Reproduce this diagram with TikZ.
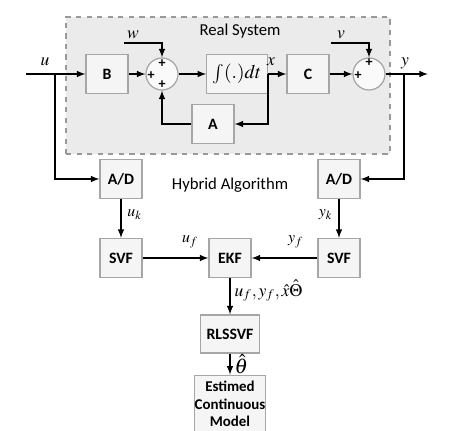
\documentclass[tikz,border=0pt]{standalone}
\usepackage{amsmath}
\usepackage{mathptmx}
\usepackage{fontspec}
\setmainfont{Carlito}
\usepackage{tikz}

\tikzset{
  block/.style={draw=gray!70, fill=gray!8, minimum width=0.84cm, minimum height=0.78cm,
    font=\bfseries\fontsize{9}{10}\selectfont},
  sumnode/.style={circle, draw=gray!70, fill=gray!4, minimum size=0.64cm, inner sep=0pt},
  sysbox/.style={draw=gray!80, dashed, fill=gray!16, minimum width=6.48cm, minimum height=2.74cm},
  plus/.style={inner sep=0pt, font=\bfseries\fontsize{8}{8}\selectfont},
  sig/.style={inner sep=1pt}
}

\begin{document}
\begin{tikzpicture}[x=0.02cm, y=-0.02cm, >=latex, line width=0.7pt]
    \useasboundingbox (0,0) rectangle (474,430);

    % Real system frame
    \node[sysbox] (sys) at (228,85.5) {};
    \node[font=\fontsize{9.5}{11}\selectfont] (title) at (240,31) {Real System};

    % Blocks of the plant
    \node[block] (B) at (107,74) {B};
    \node[sumnode] (s1) at (162,74) {};
    \node[block, minimum width=0.92cm, font=\fontsize{11}{12}\selectfont] (int) at (237,74) {$\int(.)dt$};
    \node[block] (C) at (308,74) {C};
    \node[sumnode] (s2) at (369,74) {};
    \node[block] (A) at (213,124) {A};

    % Plus signs
    \node[plus] (p1t) at (162,64) {+};
    \node[plus] (p1l) at (151,76) {+};
    \node[plus] (p1b) at (162,85) {+};
    \node[plus] (p2t) at (369,63) {+};
    \node[plus] (p2l) at (358,76) {+};

    % Free ends and branch points
    \coordinate (uin) at (26,74);
    \coordinate (yout) at (428,74);
    \coordinate (ub) at (55,74);
    \coordinate (yb) at (404,74);
    \coordinate (xb) at (268,74);
    \coordinate (win) at (124,43);
    \coordinate (vin) at (331,43);

    % Signal labels
    \node[sig] (ulab) at (45,62) {$u$};
    \node[sig] (wlab) at (133,35) {$w$};
    \node[sig] (xlab) at (271,62) {$x$};
    \node[sig] (vlab) at (341,35) {$v$};
    \node[sig] (ylab) at (405,63) {$y$};

    % Plant connections
    \draw[->] (uin) -- (B);
    \draw[->] (B) -- (s1);
    \draw[->] (s1) -- (int);
    \draw[->] (int) -- (C);
    \draw[->] (C) -- (s2);
    \draw[->] (s2) -- (yout);
    \draw[->] (win) -| (s1);
    \draw[->] (vin) -| (s2);
    \draw[->] (xb) |- (A);
    \draw[->] (A) -| (s1);

    % Hybrid algorithm
    \node[font=\fontsize{9.5}{11}\selectfont] (hyb) at (230,185) {Hybrid Algorithm};
    \node[block] (AD1) at (121,179) {A/D};
    \node[block] (AD2) at (339,179) {A/D};
    \node[block] (SVF1) at (121,258) {SVF};
    \node[block] (SVF2) at (339,258) {SVF};
    \node[block] (EKF) at (230,258) {EKF};
    \node[block, minimum width=1.04cm, minimum height=0.76cm] (RLS) at (230,334) {RLSSVF};
    \node[block, minimum width=1.38cm, minimum height=1.0cm, inner xsep=0pt, align=center,
      font=\bfseries\fontsize{8.5}{10}\selectfont] (est) at (230,404) {Estimed\\Continuous\\Model};

    \draw[->] (ub) |- (AD1);
    \draw[->] (yb) |- (AD2);
    \draw[->] (AD1) -- (SVF1) node[pos=0.4, right, font=\small] {$u_k$};
    \draw[->] (AD2) -- (SVF2) node[pos=0.4, left, font=\small] {$y_k$};
    \draw[->] (SVF1) -- (EKF) node[pos=0.72, above=2pt, font=\small] {$u_f$};
    \draw[->] (SVF2) -- (EKF) node[pos=0.33, above=2pt, font=\small] {$y_f$};
    \draw[->] (EKF) -- (RLS) node[pos=0.35, right=-1pt, font=\normalsize] {$u_f,y_f,\hat{x}\hat{\Theta}$};
    \draw[->] (RLS) -- (est) node[midway, right=-1pt, font=\large] {$\hat{\theta}$};
\end{tikzpicture}
\end{document}
